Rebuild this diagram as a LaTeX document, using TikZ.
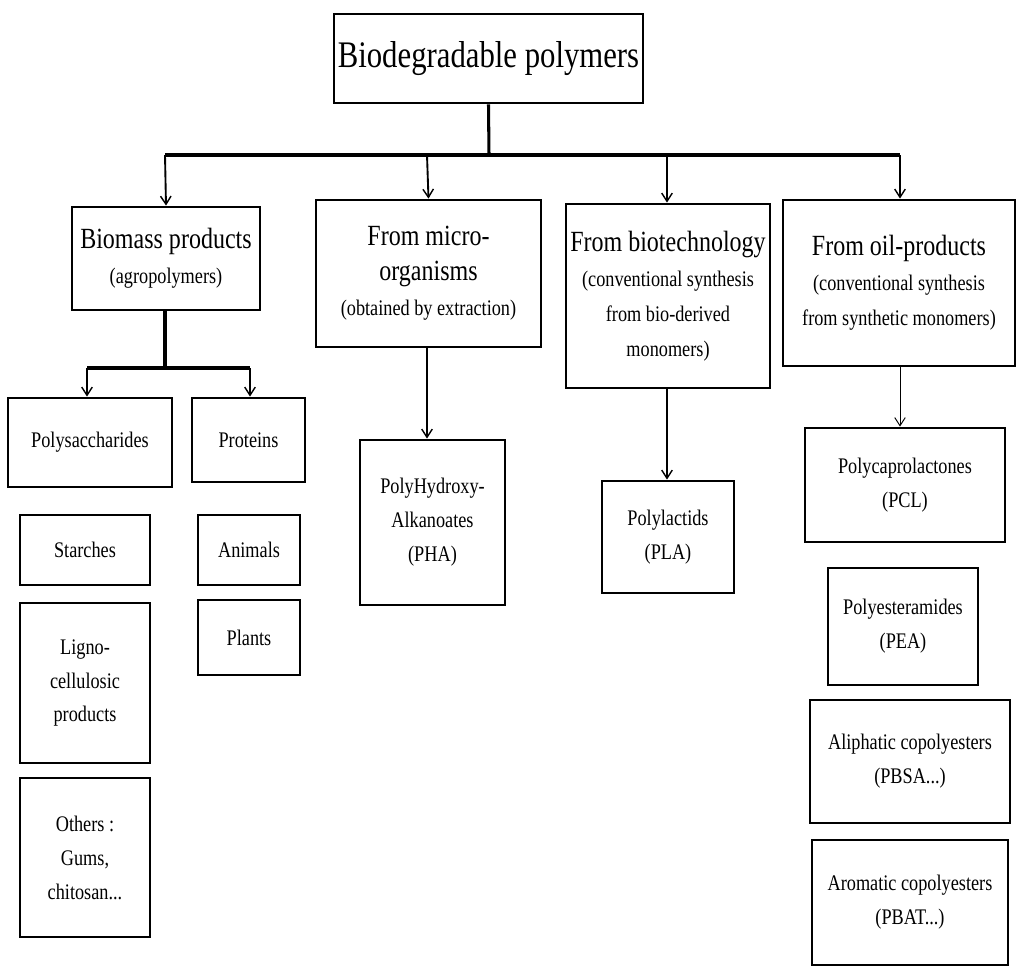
\documentclass[tikz,border=0pt]{standalone}
\usepackage{fontspec}
\setmainfont{Liberation Serif}[FakeStretch=0.82]
\usetikzlibrary{arrows.meta}
\begin{document}
\begin{tikzpicture}[x=0.03cm,y=-0.03cm,
  bx/.style={draw,line width=2.4pt,align=center,inner sep=0pt},
  ar/.style={line width=1.6pt,-{Straight Barb[length=7pt,width=9pt,line width=1.2pt]}},
  ln/.style={line width=2.6pt},
  sm/.style={align=center,font=\fontsize{19}{29}\selectfont},
  hd/.style={align=center,font=\fontsize{19}{30}\selectfont}]
\useasboundingbox (0,0) rectangle (1025,975);
\newcommand\bxat[6]{\node[bx,#6,minimum width={(#3-#2)*0.03cm},minimum height={(#5-#4)*0.03cm}] (#1) at ({(#2+#3)/2},{(#4+#5)/2}) {};}
\newcommand\hdbig[1]{{\fontsize{25}{30}\selectfont #1}}
\bxat{title}{334}{643}{14}{103}{}
\node[font=\fontsize{32}{36}\selectfont] at (title) {Biodegradable polymers};
\bxat{bio}{72}{260}{207}{310}{}
\node[hd] at (bio) {\hdbig{Biomass products}\\(agropolymers)};
\bxat{mic}{316}{541}{200}{347}{}
\node[hd] at (mic) {\hdbig{From micro-}\\\hdbig{organisms}\\(obtained by extraction)};
\bxat{btc}{566}{770}{204}{388}{}
\node[hd] at (btc) {\hdbig{From biotechnology}\\(conventional synthesis\\from bio-derived\\monomers)};
\bxat{oil}{783}{1015}{200}{366}{}
\node[hd] at (oil) {\hdbig{From oil-products}\\(conventional synthesis\\from synthetic monomers)};
\bxat{poly}{8}{172}{398}{487}{}\node[sm] at (poly){Polysaccharides};
\bxat{prot}{192}{305}{398}{482}{}\node[sm] at (prot){Proteins};
\bxat{sta}{20}{150}{515}{585}{}\node[sm] at (sta){Starches};
\bxat{lig}{20}{150}{603}{763}{}\node[sm] at (lig){Ligno-\\cellulosic\\products};
\bxat{oth}{20}{150}{778}{937}{}\node[sm] at (oth){Others :\\Gums,\\chitosan...};
\bxat{ani}{198}{300}{515}{585}{}\node[sm] at (ani){Animals};
\bxat{pla}{198}{300}{600}{675}{}\node[sm] at (pla){Plants};
\bxat{pha}{360}{505}{440}{605}{}\node[sm] at (pha){PolyHydroxy-\\Alkanoates\\(PHA)};
\bxat{pl}{602}{734}{481}{593}{}\node[sm] at (pl){Polylactids\\(PLA)};
\bxat{pcl}{805}{1005}{428}{542}{}\node[sm] at (pcl){Polycaprolactones\\(PCL)};
\bxat{pea}{828}{978}{568}{685}{}\node[sm] at (pea){Polyesteramides\\(PEA)};
\bxat{ali}{810}{1010}{700}{823}{}\node[sm] at (ali){Aliphatic copolyesters\\(PBSA...)};
\bxat{aro}{812}{1008}{840}{965}{}\node[sm] at (aro){Aromatic copolyesters\\(PBAT...)};
\coordinate (t1) at (489,155);
\coordinate (bl) at (165,155);
\coordinate (br) at (900,155);
\draw[ln] (title.south) -- (t1);
\draw[ln] (bl) -- (br);
\draw[ar] (bl) -- (bio.north);
\draw[ar] (427,155) -- (mic.north);
\draw[ar] (667,155) -- (btc.north -| 667,0);
\draw[ar] (br) -- (oil.north -| br);
\coordinate (b1) at (165,368);
\coordinate (b2) at (87,368);
\coordinate (b3) at (250,368);
\draw[ln] (bio.south -| b1) -- (b1);
\draw[ln] (b2) -- (b3);
\draw[ar] (b2) -- (poly.north -| b2);
\draw[ar] (b3) -- (prot.north -| b3);
\draw[ar] (mic.south -| 427,0) -- (pha.north -| 427,0);
\draw[ar] (btc.south -| 667,0) -- (pl.north -| 667,0);
\draw[line width=0.8pt,-{Straight Barb[length=7pt,width=9pt]}] (oil.south -| 900,0) -- (pcl.north -| 900,0);
\end{tikzpicture}
\end{document}
